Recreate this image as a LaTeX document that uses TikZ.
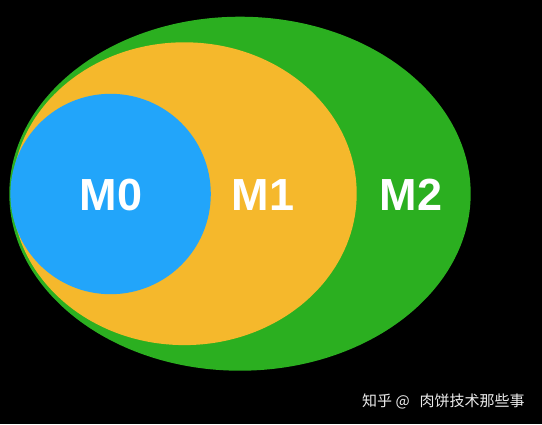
\documentclass[tikz,border=0pt]{standalone}
\usepackage{fontspec}
\setmainfont{Liberation Sans}
\newfontfamily\cjk{Noto Sans CJK SC}
\definecolor{bggreen}{HTML}{2BAF20}
\definecolor{midyellow}{HTML}{F5B82C}
\definecolor{inblue}{HTML}{22A5FA}
\tikzset{
  lbl/.style={text=white, font=\bfseries\fontsize{45}{45}\selectfont, inner sep=0pt},
  wm/.style={text=white!92!black, font=\cjk\fontsize{15}{15}\selectfont, inner sep=0pt, anchor=west}
}
\begin{document}
\begin{tikzpicture}[x=1pt,y=-1pt]
\fill[black] (0,0) rectangle (542,424);
\useasboundingbox (0,0) rectangle (542,424);
\fill[bggreen] (240,193.7) ellipse [x radius=230.7, y radius=177];
\fill[midyellow] (184.4,193.7) ellipse [x radius=172.3, y radius=151.4];
\fill[inblue] (110.6,194) circle [radius=100.2];
\node[lbl] (m0) at (111,195) {M0};
\node[lbl] (m1) at (263,195) {M1};
\node[lbl] (m2) at (411,195) {M2};
\node[wm] (wm) at (362,401) {知乎 @\hspace{10pt}肉饼技术那些事};
\end{tikzpicture}
\end{document}
